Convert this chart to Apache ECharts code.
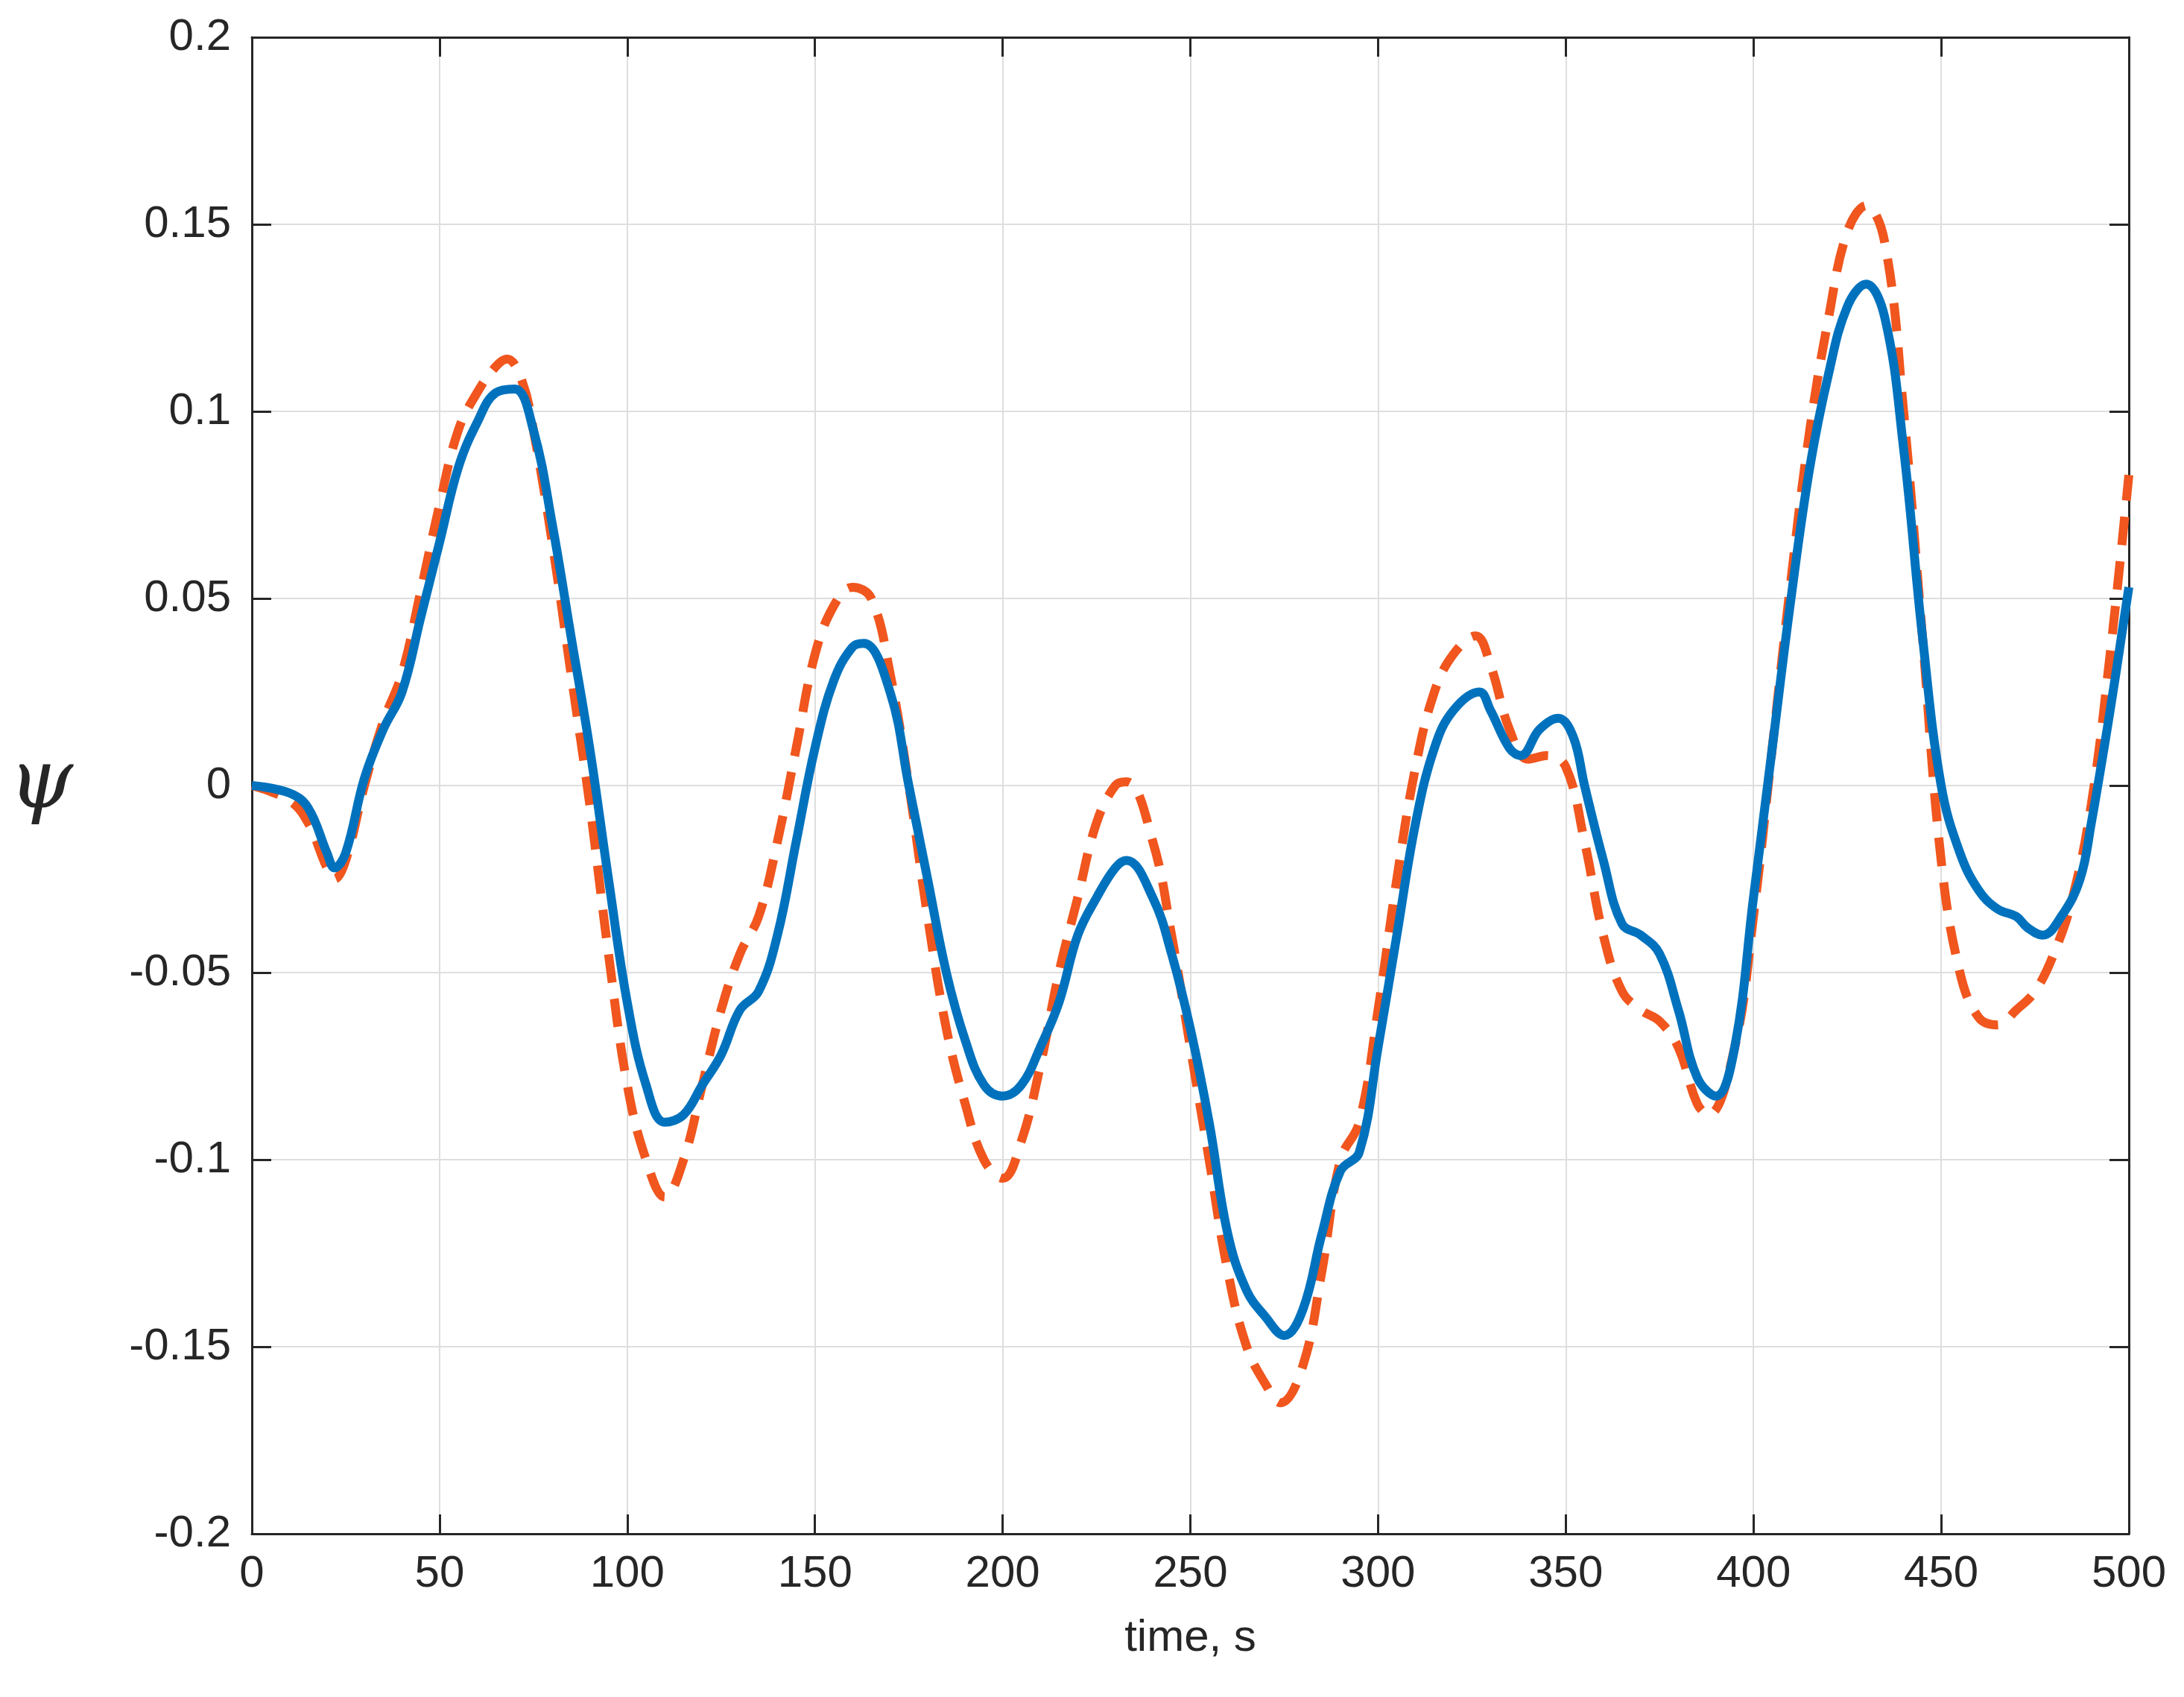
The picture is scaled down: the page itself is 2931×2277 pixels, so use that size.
<!DOCTYPE html>
<html>
<head>
<meta charset="utf-8">
<script src="https://cdn.jsdelivr.net/npm/echarts@6/dist/echarts.min.js"></script>
<style>html,body{margin:0;padding:0;background:#fff}#main{width:2931px;height:2277px}</style>
</head>
<body>
<div id="main"></div>
<script>
var blueT = [0,10,15,20,22,25,30,35,40,45,50,55,60,65,70,75,80,85,90,95,100,105,110,115,120,125,130,135,140,145,150,155,160,163,170,175,180,185,190,195,200,205,210,215,220,225,230,233,240,245,250,255,260,265,270,275,280,285,290,295,300,305,310,315,320,327,330,335,338,343,348,352,355,360,365,370,375,380,385,390,395,400,405,410,415,420,425,430,435,440,445,450,455,460,465,470,473,477,482,487,490,495,500];
var blueV = [0,-0.002,-0.006,-0.018,-0.022,-0.018,0.002,0.015,0.025,0.045,0.065,0.085,0.097,0.105,0.106,0.095,0.07,0.04,0.01,-0.025,-0.058,-0.08,-0.09,-0.088,-0.08,-0.072,-0.06,-0.055,-0.04,-0.015,0.01,0.028,0.037,0.038,0.025,0.0,-0.025,-0.05,-0.068,-0.08,-0.083,-0.08,-0.07,-0.058,-0.04,-0.03,-0.022,-0.02,-0.03,-0.045,-0.065,-0.09,-0.12,-0.135,-0.142,-0.147,-0.14,-0.12,-0.103,-0.098,-0.07,-0.04,-0.01,0.01,0.02,0.025,0.02,0.01,0.008,0.015,0.018,0.013,0.0,-0.02,-0.037,-0.04,-0.045,-0.06,-0.078,-0.083,-0.07,-0.03,0.01,0.05,0.085,0.11,0.128,0.134,0.125,0.09,0.04,0.0,-0.018,-0.028,-0.033,-0.035,-0.038,-0.04,-0.035,-0.025,-0.01,0.02,0.053];
var redT = [0,10,15,20,22,25,30,35,40,45,50,55,60,65,68,72,75,80,85,90,95,100,105,110,115,120,125,130,135,140,145,150,155,160,165,170,175,180,185,190,195,200,205,210,215,220,225,230,233,240,245,250,255,260,265,270,274,280,285,290,295,300,305,310,315,320,326,330,335,340,345,350,355,360,365,370,375,380,385,388,395,400,405,410,415,420,425,430,435,440,445,450,455,460,465,470,475,480,485,490,495,500];
var redV = [0,-0.004,-0.01,-0.022,-0.025,-0.02,0.0,0.017,0.03,0.052,0.075,0.095,0.105,0.112,0.114,0.108,0.095,0.065,0.03,-0.005,-0.045,-0.08,-0.1,-0.11,-0.1,-0.08,-0.06,-0.045,-0.035,-0.015,0.01,0.035,0.048,0.053,0.05,0.03,0.0,-0.035,-0.065,-0.085,-0.1,-0.105,-0.095,-0.075,-0.05,-0.03,-0.01,0.0,0.001,-0.015,-0.04,-0.07,-0.1,-0.13,-0.15,-0.16,-0.165,-0.155,-0.13,-0.1,-0.09,-0.06,-0.025,0.005,0.025,0.035,0.04,0.032,0.015,0.007,0.008,0.005,-0.015,-0.04,-0.055,-0.06,-0.063,-0.07,-0.085,-0.088,-0.07,-0.035,0.01,0.055,0.095,0.125,0.148,0.155,0.145,0.1,0.04,-0.02,-0.05,-0.062,-0.064,-0.06,-0.055,-0.045,-0.03,-0.005,0.035,0.083];

function pairs(t, v) {
	var r = [];
	for (var i = 0; i < t.length; i++) r.push([t[i], v[i]]);
	return r;
}

var lab = {fontFamily: 'Liberation Sans', fontSize: 60, color: '#262626'};
var axLine = {show: true, onZero: false, lineStyle: {color: '#262626', width: 3}};
var tick = {show: true, inside: true, length: 26, lineStyle: {color: '#262626', width: 3}};

var chart = echarts.init(document.getElementById('main'));
chart.setOption({
	animation: false,
	backgroundColor: '#fff',
	grid: {left: 338, right: 74, top: 50, bottom: 219},
	xAxis: [{
		type: 'value', min: 0, max: 500, interval: 50, position: 'bottom',
		name: 'time, s', nameLocation: 'middle', nameGap: 110,
		nameTextStyle: {fontFamily: 'Liberation Sans', fontSize: 60, color: '#262626'},
		axisLine: axLine, axisTick: tick,
		axisLabel: Object.assign({margin: 24}, lab),
		splitLine: {show: true, lineStyle: {color: '#dedede', width: 2}}
	}, {
		type: 'value', min: 0, max: 500, interval: 50, position: 'top',
		axisLine: axLine, axisTick: tick, axisLabel: {show: false}, splitLine: {show: false}
	}],
	yAxis: [{
		type: 'value', min: -0.2, max: 0.2, interval: 0.05, position: 'left',
		name: 'ψ', nameLocation: 'middle', nameGap: 240, nameRotate: 0,
		nameTextStyle: {fontFamily: 'DejaVu Serif', fontStyle: 'italic', fontSize: 110, color: '#262626'},
		axisLine: axLine, axisTick: tick,
		axisLabel: Object.assign({margin: 28, formatter: function (v) { return String(Math.round(v * 100) / 100); }}, lab),
		splitLine: {show: true, lineStyle: {color: '#dedede', width: 2}}
	}, {
		type: 'value', min: -0.2, max: 0.2, interval: 0.05, position: 'right',
		axisLine: axLine, axisTick: tick, axisLabel: {show: false}, splitLine: {show: false}
	}],
	series: [{
		type: 'line', data: pairs(blueT, blueV), smooth: 0.4, showSymbol: false,
		lineStyle: {color: '#0072BD', width: 12}, z: 3
	}, {
		type: 'line', data: pairs(redT, redV), smooth: 0.4, showSymbol: false,
		lineStyle: {color: '#F0561E', width: 12, type: [38, 22]}, z: 2
	}, {
		type: 'line', xAxisIndex: 1, yAxisIndex: 1, data: [], silent: true
	}]
});
</script>
</body>
</html>
